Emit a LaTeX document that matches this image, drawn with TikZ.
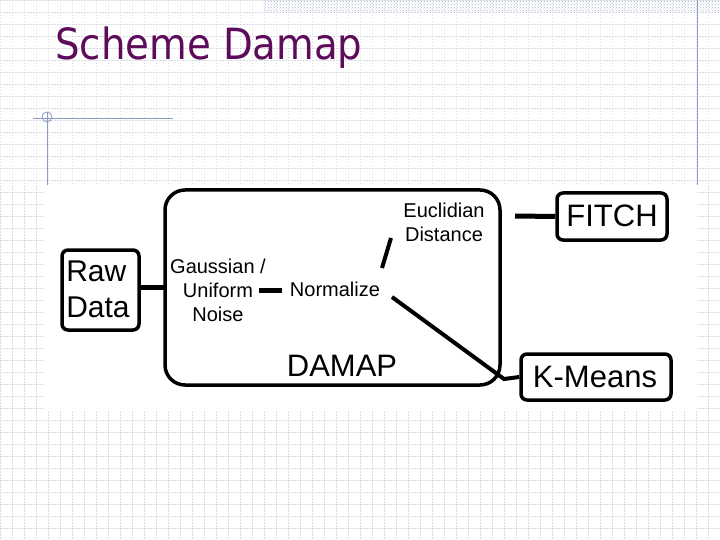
\documentclass[tikz,border=0pt]{standalone}
\usepackage{fontspec}
\setmainfont{Liberation Sans}
\newfontfamily\titlefont{DejaVu Sans Condensed}
\usetikzlibrary{patterns}
\definecolor{titlec}{RGB}{94,11,90}
\definecolor{deco}{RGB}{140,155,195}
\definecolor{gridc}{RGB}{214,218,226}
\begin{document}
\begin{tikzpicture}[x=1pt,y=-1pt,
  box/.style={draw,line width=3.5pt,rounded corners=6pt},
  conn/.style={line width=5pt},
  small/.style={font=\fontsize{20}{24}\selectfont,inner sep=0pt},
  big/.style={font=\fontsize{31}{34}\selectfont,inner sep=0pt}]
\useasboundingbox (0,0) rectangle (720,540);
\fill[white] (0,0) rectangle (720,540);
\foreach \gx in {0,12,...,720} \draw[gridc,line width=0.5pt,dash pattern=on 1.5pt off 1.5pt] (\gx,0) -- (\gx,540);
\foreach \gy in {0,12,...,540} \draw[gridc,line width=0.5pt,dash pattern=on 1.5pt off 1.5pt] (0,\gy) -- (720,\gy);
\fill[pattern=crosshatch dots,pattern color=deco!70] (263,0) rectangle (720,12);
\draw[deco,line width=1pt] (697,0) -- (697,185);
\draw[deco,line width=1pt] (33,119) -- (173,119);
\draw[deco,line width=1pt] (47,112) -- (47,185);
\draw[deco,line width=0.8pt] (47,117) circle (5);
\fill[white] (45,185) rectangle (697,410);
\node[titlec,anchor=base west,font=\titlefont\fontsize{43}{45}\selectfont,inner sep=0pt] (title) at (55,60) {Scheme Damap};
\node[box,minimum width=77,minimum height=80,inner sep=0pt] (raw) at (100.5,290) {};
\node[align=left,inner sep=0pt,font=\fontsize{30}{36}\selectfont] (rawt) at (98,289) {Raw\\Data};
\node[box,rounded corners=20pt,minimum width=335,minimum height=195] (damap) at (332.5,287.5) {};
\node[box,minimum width=110,minimum height=47] (fitch) at (612,216.5) {};
\node[big] (fitcht) at (612,216) {FITCH};
\node[box,minimum width=150,minimum height=46] (kmeans) at (596,377) {};
\node[big] (kmeanst) at (595,377) {K-Means};
\node[small,align=center] (noise) at (218,290) {Gaussian /\\Uniform\\Noise};
\node[small] (norm) at (335,289) {Normalize};
\node[small,align=center] (eucl) at (444,222) {Euclidian\\Distance};
\node[big] (damapt) at (342,366) {DAMAP};
\coordinate (a1) at (139,287); \coordinate (a2) at (165,287);
\draw[conn] (a1) -- (a2);
\coordinate (b1) at (259,290); \coordinate (b2) at (282,290);
\draw[conn] (b1) -- (b2);
\coordinate (c1) at (382,268); \coordinate (c2) at (391,238);
\draw[line width=4pt] (c1) -- (c2);
\coordinate (d1) at (392,297); \coordinate (d2) at (504,379);
\draw[line width=4pt] (d1) -- (d2) -- (kmeans.west);
\coordinate (e1) at (515,216);
\draw[conn] (e1) -- (fitch.west);
\end{tikzpicture}
\end{document}
